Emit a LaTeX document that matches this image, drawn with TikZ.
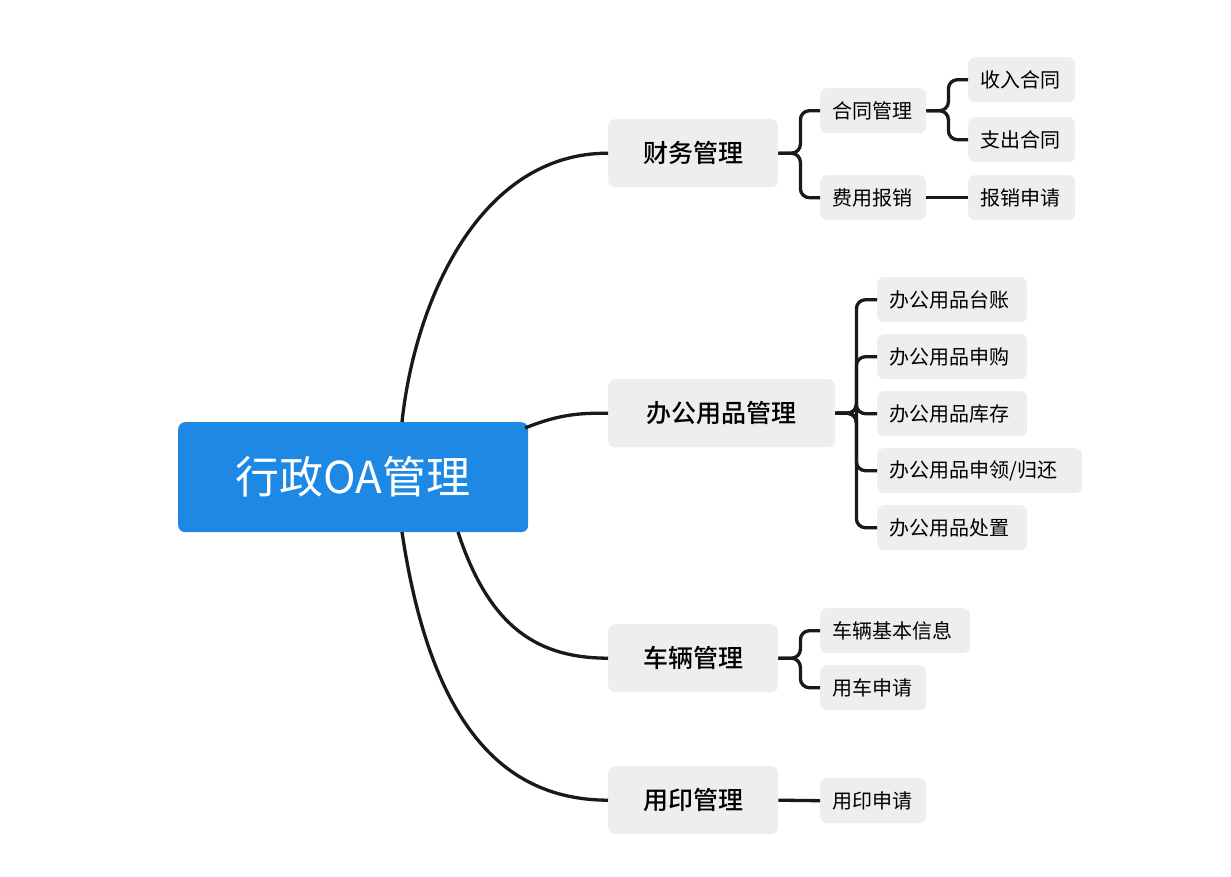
\documentclass[tikz,border=0pt]{standalone}
\usepackage{fontspec}
\setmainfont{Noto Sans CJK SC}
\newfontfamily\cjkb{Noto Sans CJK SC Medium}
\begin{document}
\begin{tikzpicture}[x=1pt,y=-1pt,
  root/.style={fill={rgb,255:red,30;green,136;blue,229},rounded corners=7pt,text=white,font=\fontsize{44}{50}\selectfont,anchor=north west,inner sep=0pt},
  lone/.style={fill={rgb,255:red,238;green,238;blue,238},rounded corners=7pt,font=\cjkb\fontsize{25}{30}\selectfont,anchor=north west,inner sep=0pt},
  ltwo/.style={fill={rgb,255:red,238;green,238;blue,238},rounded corners=7pt,font=\fontsize{20}{24}\selectfont,anchor=north west,inner sep=0pt},
  con/.style={line width=3.3pt,black!90},
  br/.style={con,rounded corners=9pt}]
\useasboundingbox (0,0) rectangle (1231,877);
\fill[white] (0,0) rectangle (1231,877);
\newcommand\bx[6]{\node[#1,minimum width=#4-#2,minimum height=#5-#3] (#6) at (#2,#3) {};}
\bx{root}{178}{422}{528}{532}{r}\node[text=white,font=\fontsize{44}{50}\selectfont] at (r.center) {行政OA管理};
\bx{lone}{608}{119}{778}{187}{a}\node[font=\cjkb\fontsize{25}{30}\selectfont] at (a.center) {财务管理};
\bx{lone}{608}{379}{835}{447}{b}\node[font=\cjkb\fontsize{25}{30}\selectfont] at (b.center) {办公用品管理};
\bx{lone}{608}{624}{778}{692}{c}\node[font=\cjkb\fontsize{25}{30}\selectfont] at (c.center) {车辆管理};
\bx{lone}{608}{766}{778}{834}{d}\node[font=\cjkb\fontsize{25}{30}\selectfont] at (d.center) {用印管理};
\newcommand\lt[6]{\node[ltwo,minimum width=#3-#2,minimum height=45] (#1) at (#2,#4) {}; \node[font=\fontsize{20}{24}\selectfont,anchor=west] at ([xshift=9pt]#1.west) {#5};}
\lt{a1}{820}{926}{88}{合同管理}{}
\lt{a2}{820}{926}{175}{费用报销}{}
\lt{a11}{968}{1075}{57}{收入合同}{}
\lt{a12}{968}{1075}{117}{支出合同}{}
\lt{a21}{968}{1075}{175}{报销申请}{}
\lt{b1}{877}{1027}{277}{办公用品台账}{}
\lt{b2}{877}{1027}{334}{办公用品申购}{}
\lt{b3}{877}{1027}{391}{办公用品库存}{}
\lt{b4}{877}{1082}{448}{办公用品申领/归还}{}
\lt{b5}{877}{1027}{505}{办公用品处置}{}
\lt{c1}{820}{970}{608}{车辆基本信息}{}
\lt{c2}{820}{926}{665}{用车申请}{}
\lt{d1}{820}{926}{778}{用印申请}{}
\coordinate (ra) at (402,422);
\coordinate (rb) at (525,428);
\coordinate (rc) at (458,532);
\coordinate (rd) at (402,532);
\draw[con] (ra) .. controls (415,300) and (480,153) .. (a.west);
\draw[con] (rb) .. controls (560,414) and (580,413) .. (b.west);
\draw[con] (rc) .. controls (490,630) and (540,658) .. (c.west);
\draw[con] (rd) .. controls (430,720) and (500,800) .. (d.west);
\foreach \p/\c/\dx in {a/a1/22,a/a2/22,a1/a11/22,a1/a12/22,b/b1/21,b/b2/21,b/b3/21,b/b4/21,b/b5/21,c/c1/22,c/c2/22}
  \draw[br] (\p.east) -- ++(\dx,0) |- (\c.west);
\draw[con] (a2.east) -- (a21.west);
\draw[con] (d.east) -- (d1.west);
\end{tikzpicture}
\end{document}
